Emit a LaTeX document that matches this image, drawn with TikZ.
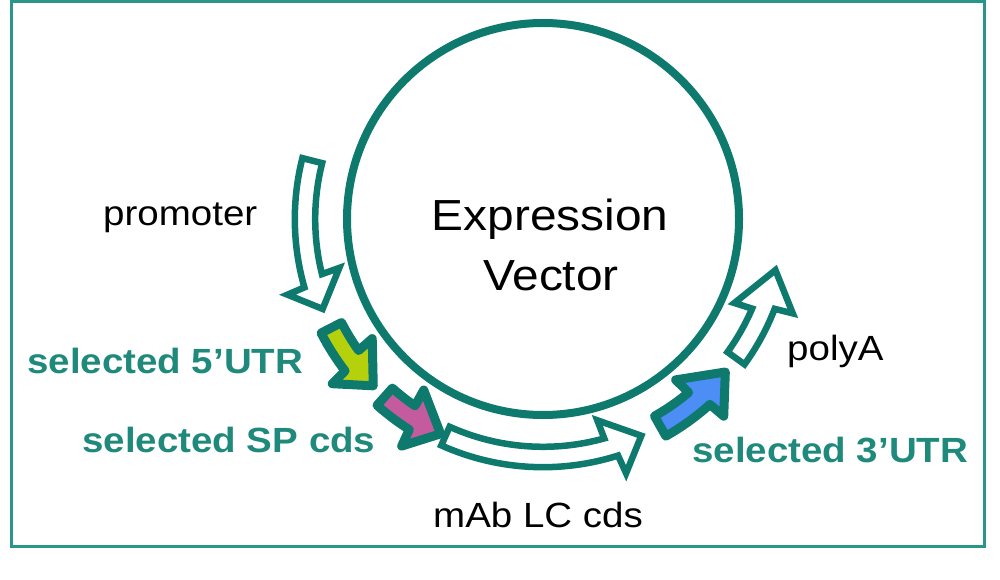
\documentclass[tikz,border=0pt]{standalone}
\usepackage{fontspec}
\setmainfont{Liberation Sans}[FakeStretch=1.1]
\definecolor{darkteal}{HTML}{0E7A6E}
\definecolor{framecol}{HTML}{2A968A}
\definecolor{labelteal}{HTML}{1F8A7C}
\definecolor{utrgreen}{HTML}{B5D10C}
\definecolor{spmagenta}{HTML}{C45B9E}
\definecolor{utrblue}{HTML}{4C8DF6}
% #1 style, #2 tail angle, #3 head base angle, #4 tip angle, #5 body half width, #6 head half width
\newcommand{\segarrow}[6]{%
  \draw[#1] (#2:{238+#5}) arc[start angle=#2, end angle={#3+1.0}, radius={(238+#5)*1pt}]
    -- ({#3+1.5}:{238+#6}) -- (#4:238) -- ({#3-1.5}:{238-#6}) -- ({#3-1.0}:{238-#5})
    arc[start angle={#3-1.0}, end angle=#2, radius={(238-#5)*1pt}] -- cycle;}
\tikzset{
  plainarrow/.style={draw=darkteal, fill=white, line width=6.5pt, line join=miter, miter limit=3},
  featarrow/.style={draw=darkteal, fill=#1, line width=9pt, line join=round},
  blacklabel/.style={font=\fontsize{35}{42}\selectfont, text=black, inner sep=0pt},
  teallabel/.style={font=\fontsize{35}{42}\selectfont\bfseries, text=labelteal, inner sep=0pt},
  titlelabel/.style={font=\fontsize{43.5}{52}\selectfont, text=black, inner sep=0pt}
}
\begin{document}
\begin{tikzpicture}[x=1pt,y=1pt]
\useasboundingbox (0,0) rectangle (1000,579);
\fill[white] (0,0) rectangle (1000,579);
\draw[framecol, line width=3pt] (11.2,32.5) rectangle (984.7,577.5);
\node[circle, draw=darkteal, line width=8pt, minimum size=392pt, inner sep=0pt] (vector) at (543,360) {};
\node[titlelabel, anchor=base] (title1) at (550,348) {Expression};
\node[titlelabel, anchor=base] (title2) at (551,289) {Vector};
\begin{scope}[shift={(543,360)}]
  \segarrow{plainarrow}{165.8}{195}{202.2}{10.2}{28.5}
  \segarrow{featarrow=utrgreen}{207.2}{216.5}{224.5}{11.5}{29.5}
  \segarrow{featarrow=spmagenta}{228.3}{236.6}{244.5}{11.5}{29.5}
  \segarrow{plainarrow}{245.8}{286.6}{294.4}{10.2}{29.5}
  \segarrow{featarrow=utrblue}{299.5}{311}{320}{11.5}{29.5}
  \segarrow{plainarrow}{324.2}{337.8}{347.6}{10.5}{29}
\end{scope}
\node[blacklabel, anchor=base west] (promoter) at (103,353) {promoter};
\node[teallabel, anchor=base west] (utr5) at (27,206) {selected 5’UTR};
\node[teallabel, anchor=base west] (sp) at (82,127) {selected SP cds};
\node[blacklabel, anchor=base west] (mab) at (433,52) {mAb LC cds};
\node[blacklabel, anchor=base west] (polya) at (787,219) {polyA};
\node[teallabel, anchor=base west] (utr3) at (692,117) {selected 3’UTR};
\end{tikzpicture}
\end{document}
